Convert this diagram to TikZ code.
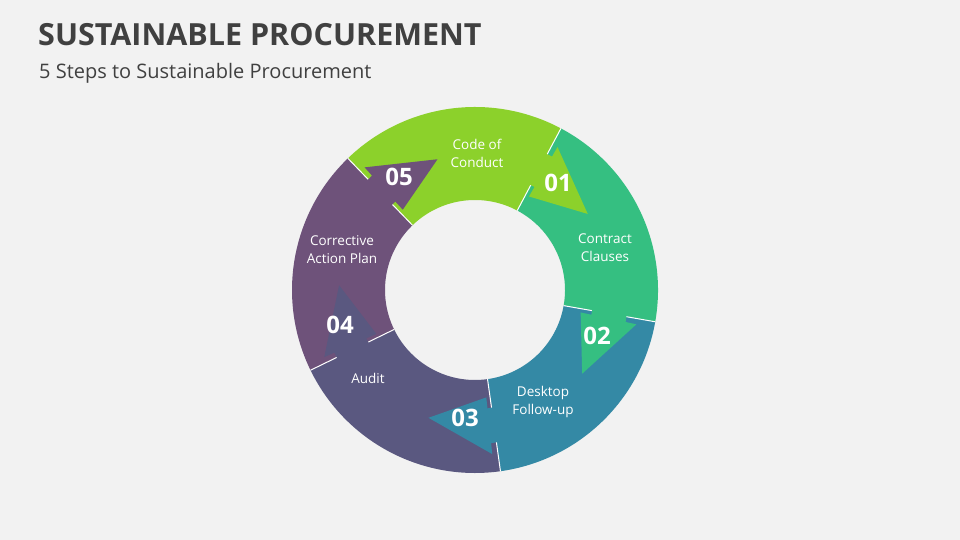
\documentclass[tikz,border=0pt]{standalone}
\usepackage{fontspec}
\setmainfont{Open Sans}
\definecolor{bg}{HTML}{F2F2F2}
\definecolor{ttl}{HTML}{404040}
\definecolor{cA}{HTML}{8CD12B}
\definecolor{cB}{HTML}{35BF81}
\definecolor{cC}{HTML}{3489A5}
\definecolor{cD}{HTML}{5A5880}
\definecolor{cE}{HTML}{6E527A}
\begin{document}
\begin{tikzpicture}[x=1pt,y=1pt,
  num/.style={text=white,font=\bfseries\fontsize{24}{24}\selectfont,inner sep=0},
  lab/.style={text=white,font=\fontsize{13.5}{18}\selectfont,align=center,inner sep=0}]
\fill[bg] (0,0) rectangle (960,540);
\useasboundingbox (0,0) rectangle (960,540);
\node[anchor=west,text=ttl,font=\bfseries\fontsize{30.5}{30.5}\selectfont,inner sep=0] (title) at (38,505) {SUSTAINABLE PROCUREMENT};
\node[anchor=west,text=ttl,font=\fontsize{20}{20}\selectfont,inner sep=0] (sub) at (39,467) {5 Steps to Sustainable Procurement};
\begin{scope}[shift={(475,250)}]
\foreach \a/\b/\c in {134/62/cA,62/-10/cB,-10/-82/cC,-82/-154/cD,-154/-226/cE}{
  \fill[\c] (\a:183) arc[start angle=\a,end angle=\b,radius=183] -- (\b:90) arc[start angle=\b,end angle=\a,radius=90] -- cycle;
}
\foreach \b in {62,-10,-82,-154,-226}{
  \draw[white,line width=1pt] (\b:90) -- (\b:183);
}
\foreach \b/\c in {62/cA,-10/cB,-82/cC,-154/cD,-226/cE}{
  \fill[\c] (\b+5:119) -- (\b-2:119) -- (\b-2:108) -- (\b-28:136) -- (\b-2:165) -- (\b-2:154) -- (\b+5:154) -- cycle;
}
\end{scope}
\node[num] (n1) at (558,357) {01};
\node[num] (n2) at (597,204) {02};
\node[num] (n3) at (465,122) {03};
\node[num] (n4) at (340,215) {04};
\node[num] (n5) at (399,363) {05};
\node[lab] (l5) at (477,387) {Code of\\Conduct};
\node[lab] (l1) at (605,292) {Contract\\Clauses};
\node[lab] (l2) at (543,138) {Desktop\\Follow-up};
\node[lab] (l3) at (368,162) {Audit};
\node[lab] (l4) at (342,290) {Corrective\\Action Plan};
\end{tikzpicture}
\end{document}
